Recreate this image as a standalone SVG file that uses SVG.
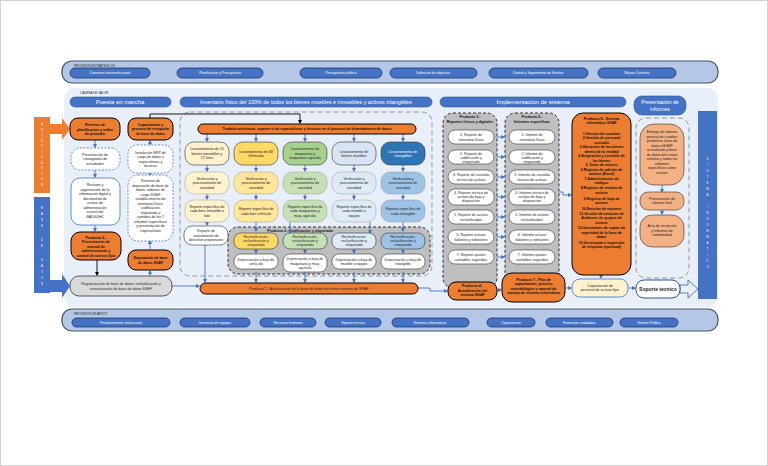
<svg xmlns="http://www.w3.org/2000/svg" width="768" height="466" viewBox="0 0 768 466">
<defs>
<marker id="a" markerWidth="4" markerHeight="4" refX="3" refY="2" orient="auto" markerUnits="userSpaceOnUse"><path d="M0,0L4,2L0,4z" fill="#4472c4"/></marker>
<marker id="k" markerWidth="4" markerHeight="4" refX="3" refY="2" orient="auto" markerUnits="userSpaceOnUse"><path d="M0,0L4,2L0,4z" fill="#000"/></marker>
<style>
text{font-family:"Liberation Sans",Arial,sans-serif;font-size:3.6px;text-anchor:middle;fill:#222}
.band{fill:#b4c7e7;stroke:#44546a;stroke-width:1.2}
.pill{fill:#4472c4;stroke:#1f3864;stroke-width:0.8}
.pt{fill:#fff;font-size:3.4px}
.hd{fill:#4472c4;stroke:#2f5597;stroke-width:0.6}
.ht{fill:#fff;font-size:6px}
.or{fill:#ed7d31;stroke:#000;stroke-width:1}
.ob{font-weight:bold;fill:#111}
.wd{fill:#fff;stroke:#4472c4;stroke-width:0.8;stroke-dasharray:2 1.5}
.wb{fill:#fff;stroke:#4472c4;stroke-width:0.8}
.wk{fill:#fff;stroke:#333;stroke-width:0.6}
.gd{fill:#bfbfbf;stroke:#333;stroke-width:1;stroke-dasharray:3 2}
.reg{fill:none;stroke:#7f7f7f;stroke-width:0.8;stroke-dasharray:5 3}
.c path,.c line,.c polyline{fill:none;stroke:#4472c4;stroke-width:0.9}
.lbl{font-size:3px;text-anchor:start}
.vt{fill:#fff;font-size:2.8px}
</style>
</defs>
<rect x="0.5" y="0.5" width="767" height="465" fill="#fff" stroke="#d0d0d0"/>

<g id="estrategicos">
<rect class="band" x="62" y="61" width="656" height="22" rx="10"/>
<text class="lbl" x="74" y="66.5">PROCESOS ESTRATEGICOS</text>
<rect class="pill" x="70" y="68" width="80" height="10" rx="5"/><text class="pt" x="110" y="74.2">Consenso interinstitucional</text>
<rect class="pill" x="177" y="68" width="86" height="10" rx="5"/><text class="pt" x="220" y="74.2">Planificacion y Presupuesto</text>
<rect class="pill" x="300" y="68" width="82" height="10" rx="5"/><text class="pt" x="341" y="74.2">Presupuesto público</text>
<rect class="pill" x="390" y="68" width="87" height="10" rx="5"/><text class="pt" x="433" y="74.2">Definicion de objetivos</text>
<rect class="pill" x="489" y="68" width="99" height="10" rx="5"/><text class="pt" x="538" y="74.2">Control y Seguimiento de Gestion</text>
<rect class="pill" x="598" y="68" width="78" height="10" rx="5"/><text class="pt" x="637" y="74.2">Mejora Continua</text>
</g>

<g id="cadena">
<rect x="64" y="88" width="654" height="219" rx="10" fill="#e9eff9"/>
<text class="lbl" x="80" y="93.5">CADENA DE VALOR</text>
<rect class="hd" x="70" y="97" width="101" height="10" rx="5"/><text class="ht" x="120" y="104">Puesta en marcha</text>
<rect class="hd" x="180" y="97" width="252" height="10" rx="5"/><text class="ht" x="306" y="104" style="font-size:5.4px">Inventario físico del 100% de todos los bienes muebles e inmuebles y activos intangibles</text>
<rect class="hd" x="440" y="97" width="186" height="10" rx="5"/><text class="ht" x="533" y="104">Implementación de sistema</text>
<rect class="hd" x="634" y="96" width="52" height="19" rx="8"/><text class="ht" x="660" y="104" style="font-size:5.2px">Presentación de</text><text class="ht" x="660" y="111" style="font-size:5.2px">informes</text>
</g>

<g id="adjudicacion">
<rect x="34" y="117" width="16" height="76" fill="#ed7d31"/>
<text class="vt" x="42" y="125">A</text><text class="vt" x="42" y="130.5">D</text><text class="vt" x="42" y="136">J</text><text class="vt" x="42" y="141.5">U</text><text class="vt" x="42" y="147">D</text><text class="vt" x="42" y="152.5">I</text><text class="vt" x="42" y="158">C</text><text class="vt" x="42" y="163.5">A</text><text class="vt" x="42" y="169">C</text><text class="vt" x="42" y="174.5">I</text><text class="vt" x="42" y="180">O</text><text class="vt" x="42" y="185.5">N</text>
<path d="M50,124H62V118L70,129L62,140V134H50z" fill="#ed7d31"/>
</g>
<g id="basedatos">
<rect x="34" y="197" width="16" height="96" fill="#4472c4"/>
<text class="vt" x="42" y="209">B</text><text class="vt" x="42" y="215">A</text><text class="vt" x="42" y="221">S</text><text class="vt" x="42" y="227">E</text><text class="vt" x="42" y="241">D</text><text class="vt" x="42" y="247">E</text><text class="vt" x="42" y="261">D</text><text class="vt" x="42" y="267">A</text><text class="vt" x="42" y="273">T</text><text class="vt" x="42" y="279">O</text><text class="vt" x="42" y="285">S</text>
<path d="M50,280H62V274L70,286L62,298V292H50z" fill="#4472c4"/>
</g>
<g id="sistema">
<rect x="698" y="111" width="19" height="188" fill="#4472c4"/>
<text class="vt" x="707.5" y="160">S</text><text class="vt" x="707.5" y="166">I</text><text class="vt" x="707.5" y="172">S</text><text class="vt" x="707.5" y="178">T</text><text class="vt" x="707.5" y="184">E</text><text class="vt" x="707.5" y="190">M</text><text class="vt" x="707.5" y="196">A</text>
<text class="vt" x="707.5" y="208">I</text><text class="vt" x="707.5" y="214">N</text><text class="vt" x="707.5" y="220">F</text><text class="vt" x="707.5" y="226">O</text><text class="vt" x="707.5" y="232">R</text><text class="vt" x="707.5" y="238">M</text><text class="vt" x="707.5" y="244">A</text><text class="vt" x="707.5" y="250">T</text><text class="vt" x="707.5" y="256">I</text><text class="vt" x="707.5" y="262">C</text><text class="vt" x="707.5" y="268">O</text>
</g>

<rect class="reg" x="180" y="112" width="252" height="164" rx="10"/>
<rect class="gd" x="228" y="227" width="202" height="47" rx="10"/>
<text class="ob" x="300" y="231.5" style="font-size:3.6px">Producto 2.- Codificación y etiquetado</text>
<rect class="gd" x="443" y="113" width="54" height="175" rx="10"/>
<text class="ob" x="470" y="118">Producto 3.-</text><text class="ob" x="470" y="122.5">Reportes físicos y digitales</text>
<rect class="gd" x="505" y="113" width="54" height="175" rx="10"/>
<text class="ob" x="532" y="118">Producto 5.-</text><text class="ob" x="532" y="122.5">Informes específicos</text>
<rect class="reg" x="636" y="118" width="53" height="160" rx="10"/>

<g class="c" id="connectors">
<polyline points="95,140 95,147" marker-end="url(#a)"/>
<polyline points="95,170 95,177" marker-end="url(#a)"/>
<polyline points="95,225 95,231" marker-end="url(#a)"/>
<polyline points="97,260 97,275" style="stroke:#000" marker-end="url(#k)"/>
<polyline points="150,145 150,141" marker-end="url(#a)"/>
<polyline points="150,175 150,173" marker-end="url(#a)"/>
<polyline points="150,249 150,241" marker-end="url(#a)"/>
<polyline points="150,276 150,271" marker-end="url(#a)"/>
<polyline points="150,118 150,114 300,114 300,123" style="stroke:#000" marker-end="url(#k)"/>
<polyline points="207,134 207,141" marker-end="url(#a)"/><polyline points="256,134 256,141" marker-end="url(#a)"/><polyline points="305,134 305,141" marker-end="url(#a)"/><polyline points="354,134 354,141" marker-end="url(#a)"/><polyline points="403,134 403,141" marker-end="url(#a)"/>
<polyline points="207,165 207,171" marker-end="url(#a)"/><polyline points="256,165 256,171" marker-end="url(#a)"/><polyline points="305,165 305,171" marker-end="url(#a)"/><polyline points="354,165 354,171" marker-end="url(#a)"/><polyline points="403,165 403,171" marker-end="url(#a)"/>
<polyline points="207,194 207,199" marker-end="url(#a)"/><polyline points="256,194 256,199" marker-end="url(#a)"/><polyline points="305,194 305,199" marker-end="url(#a)"/><polyline points="354,194 354,199" marker-end="url(#a)"/><polyline points="403,194 403,199" marker-end="url(#a)"/>
<polyline points="207,222 207,225" marker-end="url(#a)"/>
<polyline points="256,222 256,231" marker-end="url(#a)"/><polyline points="290,222 290,233" marker-end="url(#a)"/><polyline points="370,222 370,233" marker-end="url(#a)"/><polyline points="403,222 403,231" marker-end="url(#a)"/>
<polyline points="256,248 256,253" marker-end="url(#a)"/><polyline points="305,248 305,253" marker-end="url(#a)"/><polyline points="354,248 354,253" marker-end="url(#a)"/><polyline points="403,248 403,253" marker-end="url(#a)"/>
<polyline points="205,245 205,282" marker-end="url(#a)"/>
<polyline points="256,272 256,282" marker-end="url(#a)"/><polyline points="305,272 305,282" marker-end="url(#a)"/><polyline points="354,272 354,282" marker-end="url(#a)"/><polyline points="403,272 403,282" marker-end="url(#a)"/>
<polyline points="172,286 199,286" marker-end="url(#a)"/>
<polyline points="418,288 430,288 430,291 447,291" marker-end="url(#a)"/>
<polyline points="472,282 472,289" marker-end="url(#a)"/>
<polyline points="497,290 501,290" marker-end="url(#a)"/>
<polyline points="565,288 571,288" marker-end="url(#a)"/>
<polyline points="628,288 635,288" marker-end="url(#a)"/>
<polyline points="601,275 601,278" marker-end="url(#a)"/>
<polyline points="559,192 563,192 563,195 571,195" marker-end="url(#a)"/>
<polyline points="497,137 504,137" marker-end="url(#a)"/><polyline points="497,157 504,157" marker-end="url(#a)"/><polyline points="497,177 504,177" marker-end="url(#a)"/><polyline points="497,197 504,197" marker-end="url(#a)"/><polyline points="497,217 504,217" marker-end="url(#a)"/><polyline points="497,237 504,237" marker-end="url(#a)"/><polyline points="497,257 504,257" marker-end="url(#a)"/>
<polyline points="662,185 662,192" marker-end="url(#a)"/><polyline points="662,210 662,214" marker-end="url(#a)"/>
<path d="M680,285H688V280L698,289L688,298V293H680z" fill="#4472c4" stroke="none"/>
</g>

<g id="puesta">
<rect class="or" x="70" y="118" width="50" height="22" rx="8"/><text class="ob" x="95" y="126">Revision de</text><text class="ob" x="95" y="130.5">planificacion y orden</text><text class="ob" x="95" y="135">de proceder</text>
<rect class="wd" x="71" y="148" width="49" height="22" rx="9"/><text x="95" y="155.5">Presentación de</text><text x="95" y="160">cronograma de</text><text x="95" y="164.5">actividades</text>
<rect class="wb" x="71" y="178" width="49" height="47" rx="9"/><text x="95" y="186">Revision y</text><text x="95" y="190.5">organización de la</text><text x="95" y="195">informacion digital y</text><text x="95" y="199.5">documental de</text><text x="95" y="204">activos de</text><text x="95" y="208.5">administración</text><text x="95" y="213">central del</text><text x="95" y="217.5">GADGDHC</text>
<rect class="or" x="71" y="232" width="50" height="28" rx="9"/><text class="ob" x="96" y="238.5">Producto 6.-</text><text class="ob" x="96" y="243">Presentación de</text><text class="ob" x="96" y="247.5">manual de</text><text class="ob" x="96" y="252">administración y</text><text class="ob" x="96" y="256.5">control de activos fijos</text>
<rect x="70" y="276" width="102" height="20" rx="9" fill="#d9d9d9" stroke="#333" stroke-width="0.8"/><text x="121" y="284.5">Regularización de base de datos, reclasificación y</text><text x="121" y="289.5">estructuración de base de datos SGEF</text>
<rect class="or" x="128" y="118" width="45" height="22" rx="8"/><text class="ob" x="150.5" y="125.5">Capacitación y</text><text class="ob" x="150.5" y="130">proceso de recepción</text><text class="ob" x="150.5" y="134.5">de base de datos</text>
<rect class="wd" x="128" y="145" width="45" height="28" rx="9"/><text x="150.5" y="153.5">Instalación ERP de</text><text x="150.5" y="158">carga de datos a</text><text x="150.5" y="162.5">especialistas y</text><text x="150.5" y="167">técnicos</text>
<rect class="wd" x="128" y="175" width="45" height="66" rx="10"/><text x="150.5" y="182">Revision de</text><text x="150.5" y="186.5">depuración de base de</text><text x="150.5" y="191">datos, ordenes de</text><text x="150.5" y="195.5">cargo SGEF</text><text x="150.5" y="200">establecimiento de</text><text x="150.5" y="204.5">inventario físico,</text><text x="150.5" y="209">codificación,</text><text x="150.5" y="213.5">etiquetado y</text><text x="150.5" y="218">cambios de los 7</text><text x="150.5" y="222.5">informes específicos</text><text x="150.5" y="227">y presentación de</text><text x="150.5" y="231.5">especialistas</text>
<rect class="or" x="128" y="250" width="45" height="20" rx="8"/><text class="ob" x="150.5" y="259">Depuración de base</text><text class="ob" x="150.5" y="263.5">de datos SGEF</text>
</g>

<g id="inventario">
<rect class="or" x="198" y="124" width="218" height="10" rx="5"/><text class="ob" x="307" y="130.2">Tradado asistencia, soporte a las especialistas y técnicos en el proceso de levantamiento de datos</text>
<rect x="185" y="142" width="44" height="23" rx="9" fill="#fff2cc" stroke="#333" stroke-width="0.6"/><text x="207" y="150">Levantamiento de 15</text><text x="207" y="154.5">bienes inmuebles y</text><text x="207" y="159">17 lotes</text>
<rect x="234" y="142" width="44" height="23" rx="9" fill="#ffd966" stroke="#333" stroke-width="0.6"/><text x="256" y="152.5">Levantamiento de 68</text><text x="256" y="157">Vehículos</text>
<rect x="283" y="142" width="44" height="23" rx="9" fill="#a9d18e" stroke="#333" stroke-width="0.6"/><text x="305" y="150">Levantamiento de</text><text x="305" y="154.5">maquinaria y</text><text x="305" y="159">maquinaria agrícola</text>
<rect x="332" y="142" width="44" height="23" rx="9" fill="#dae3f3" stroke="#333" stroke-width="0.6"/><text x="354" y="152.5">Levantamiento de</text><text x="354" y="157">bienes muebles</text>
<rect x="381" y="142" width="44" height="23" rx="9" fill="#2e75b6" stroke="#333" stroke-width="0.6"/><text x="403" y="152.5" style="fill:#fff">Levantamiento de</text><text x="403" y="157" style="fill:#fff">intangibles</text>
<rect x="185" y="172" width="44" height="22" rx="9" fill="#fff2cc" stroke="#999" stroke-width="0.5"/><text x="207" y="179.5">Verificación y</text><text x="207" y="184">procesamiento de</text><text x="207" y="188.5">novedad</text>
<rect x="234" y="172" width="44" height="22" rx="9" fill="#ffe699" stroke="#999" stroke-width="0.5"/><text x="256" y="179.5">Verificación y</text><text x="256" y="184">procesamiento de</text><text x="256" y="188.5">novedad</text>
<rect x="283" y="172" width="44" height="22" rx="9" fill="#c5e0b4" stroke="#999" stroke-width="0.5"/><text x="305" y="179.5">Verificación y</text><text x="305" y="184">procesamiento de</text><text x="305" y="188.5">novedad</text>
<rect x="332" y="172" width="44" height="22" rx="9" fill="#deebf7" stroke="#999" stroke-width="0.5"/><text x="354" y="179.5">Verificación y</text><text x="354" y="184">procesamiento de</text><text x="354" y="188.5">novedad</text>
<rect x="381" y="172" width="44" height="22" rx="9" fill="#9dc3e6" stroke="#999" stroke-width="0.5"/><text x="403" y="179.5">Verificación y</text><text x="403" y="184">procesamiento de</text><text x="403" y="188.5">novedad</text>
<rect x="185" y="200" width="44" height="22" rx="9" fill="#fff2cc" stroke="#999" stroke-width="0.5"/><text x="207" y="207.5">Reporte específico de</text><text x="207" y="212">cada bien inmueble o</text><text x="207" y="216.5">lote</text>
<rect x="234" y="200" width="44" height="22" rx="9" fill="#ffe699" stroke="#999" stroke-width="0.5"/><text x="256" y="210">Reporte específico de</text><text x="256" y="214.5">cada bien vehículo</text>
<rect x="283" y="200" width="44" height="22" rx="9" fill="#c5e0b4" stroke="#999" stroke-width="0.5"/><text x="305" y="207.5">Reporte específico de</text><text x="305" y="212">cada maquinaria y</text><text x="305" y="216.5">maq. agrícola</text>
<rect x="332" y="200" width="44" height="22" rx="9" fill="#deebf7" stroke="#999" stroke-width="0.5"/><text x="354" y="207.5">Reporte específico de</text><text x="354" y="212">cada mueble o</text><text x="354" y="216.5">equipo</text>
<rect x="381" y="200" width="44" height="22" rx="9" fill="#9dc3e6" stroke="#999" stroke-width="0.5"/><text x="403" y="210">Reporte específico de</text><text x="403" y="214.5">cada intangible</text>
<rect class="wk" x="184" y="226" width="44" height="19" rx="8"/><text x="206" y="232">Reporte de</text><text x="206" y="236.5">saneamiento de</text><text x="206" y="241">derechos propietarios</text>
<rect x="234" y="233" width="44" height="16" rx="7" fill="#ffd966" stroke="#333" stroke-width="0.6"/><text x="256" y="238">Reclasificación,</text><text x="256" y="242">reclasificación y</text><text x="256" y="246">etiquetado</text>
<rect x="283" y="233" width="44" height="16" rx="7" fill="#c5e0b4" stroke="#333" stroke-width="0.6"/><text x="305" y="238">Reclasificación,</text><text x="305" y="242">reclasificación y</text><text x="305" y="246">etiquetado</text>
<rect x="332" y="233" width="44" height="16" rx="7" fill="#deebf7" stroke="#333" stroke-width="0.6"/><text x="354" y="238">Reclasificación,</text><text x="354" y="242">reclasificación y</text><text x="354" y="246">etiquetado</text>
<rect x="381" y="233" width="44" height="16" rx="7" fill="#9dc3e6" stroke="#333" stroke-width="0.6"/><text x="403" y="238">Reclasificación,</text><text x="403" y="242">reclasificación y</text><text x="403" y="246">etiquetado</text>
<rect class="wk" x="234" y="254" width="44" height="15" rx="7"/><text x="256" y="260.5">Depreciación o baja de</text><text x="256" y="265">vehículo</text>
<rect class="wk" x="283" y="254" width="44" height="18" rx="7"/><text x="305" y="260">Depreciación o baja de</text><text x="305" y="264.5">maquinaria y maq.</text><text x="305" y="269">agrícola</text>
<rect class="wk" x="332" y="254" width="44" height="15" rx="7"/><text x="354" y="260.5">Depreciación o baja de</text><text x="354" y="265">mueble o equipo</text>
<rect class="wk" x="381" y="254" width="44" height="15" rx="7"/><text x="403" y="260.5">Depreciación o baja de</text><text x="403" y="265">intangible</text>
<rect class="or" x="200" y="283" width="218" height="11" rx="5.5"/><text x="309" y="289.8">Producto 1.- Actualización de la base de datos del nuevo sistema de SGAF</text>
</g>

<g id="implementacion">
<rect class="wk" x="448" y="130" width="46" height="14" rx="7"/><text x="471" y="136">1. Reporte de</text><text x="471" y="140.5">inventario físico</text>
<rect class="wk" x="448" y="150" width="46" height="14" rx="7"/><text x="471" y="154.5">2. Reporte de</text><text x="471" y="158.5">codificación y</text><text x="471" y="162.5">etiquetado</text>
<rect class="wk" x="448" y="170" width="46" height="14" rx="7"/><text x="471" y="176">3. Reporte de consulta</text><text x="471" y="180.5">técnico de activos</text>
<rect class="wk" x="448" y="189" width="46" height="16" rx="7"/><text x="471" y="194">4. Reporte técnico de</text><text x="471" y="198">activos de baja y</text><text x="471" y="202">disposición</text>
<rect class="wk" x="448" y="210" width="46" height="14" rx="7"/><text x="471" y="216">5. Reporte de activos</text><text x="471" y="220.5">reclasificados</text>
<rect class="wk" x="448" y="230" width="46" height="14" rx="7"/><text x="471" y="236">6. Reporte activos</text><text x="471" y="240.5">faltantes y sobrantes</text>
<rect class="wk" x="448" y="250" width="46" height="14" rx="7"/><text x="471" y="256">7. Reporte ajustes</text><text x="471" y="260.5">contables sugeridos</text>
<rect class="wk" x="509" y="130" width="46" height="14" rx="7"/><text x="532" y="136">1. Informe de</text><text x="532" y="140.5">inventario físico</text>
<rect class="wk" x="509" y="150" width="46" height="14" rx="7"/><text x="532" y="154.5">2. Informe de</text><text x="532" y="158.5">codificación y</text><text x="532" y="162.5">etiquetado</text>
<rect class="wk" x="509" y="170" width="46" height="14" rx="7"/><text x="532" y="176">3. Informe de consulta</text><text x="532" y="180.5">técnico de activos</text>
<rect class="wk" x="509" y="189" width="46" height="16" rx="7"/><text x="532" y="194">4. Informe técnico de</text><text x="532" y="198">activos de baja y</text><text x="532" y="202">disposición</text>
<rect class="wk" x="509" y="210" width="46" height="14" rx="7"/><text x="532" y="216">5. Informe de activos</text><text x="532" y="220.5">reclasificados</text>
<rect class="wk" x="509" y="230" width="46" height="14" rx="7"/><text x="532" y="236">6. Informe activos</text><text x="532" y="240.5">faltantes y sobrantes</text>
<rect class="wk" x="509" y="250" width="46" height="14" rx="7"/><text x="532" y="256">7. Informe ajustes</text><text x="532" y="260.5">contables sugeridos</text>
<rect class="or" x="572" y="113" width="59" height="162" rx="11"/>
<text x="601.5" y="119.5" class="ob">Producto 8.- Sistema</text><text x="601.5" y="124" class="ob">informático SGAF</text>
<text x="601.5" y="134.5" class="ob">1.Gestion de usuarios</text><text x="601.5" y="139" class="ob">2.Gestión de personal</text><text x="601.5" y="143.5" class="ob">custodio</text><text x="601.5" y="148" class="ob">3.Ubicación de los bienes</text><text x="601.5" y="152.5" class="ob">dentro de la entidad</text><text x="601.5" y="157" class="ob">4.Asignación y custodio de</text><text x="601.5" y="161.5" class="ob">los bienes</text><text x="601.5" y="166" class="ob">5. Ítems de activos</text><text x="601.5" y="170.5" class="ob">6.Registro de adición de</text><text x="601.5" y="175" class="ob">activos (Excel)</text><text x="601.5" y="179.5" class="ob">7.Administración de</text><text x="601.5" y="184" class="ob">códigos</text><text x="601.5" y="189" class="ob">8.Registro de revalúo de</text><text x="601.5" y="193.5" class="ob">activos</text><text x="601.5" y="199.5" class="ob">9.Registro de baja de</text><text x="601.5" y="204" class="ob">activos</text><text x="601.5" y="210" class="ob">10.Emisión de reportes</text><text x="601.5" y="214.5" class="ob">11.Gestión de creación de</text><text x="601.5" y="219" class="ob">Auditores de grupos de</text><text x="601.5" y="223.5" class="ob">activos</text><text x="601.5" y="229" class="ob">12.Generación de copias de</text><text x="601.5" y="233.5" class="ob">seguridad de la base de</text><text x="601.5" y="238" class="ob">datos</text><text x="601.5" y="243.5" class="ob">13.Generación e impresión</text><text x="601.5" y="248" class="ob">de etiquetas (opcional)</text>
<rect class="or" x="448" y="282" width="49" height="18" rx="8"/><text class="ob" x="472.5" y="287">Producto 4.-</text><text class="ob" x="472.5" y="291.5">Actualización del</text><text class="ob" x="472.5" y="296">sistema SGAF</text>
<rect class="or" x="502" y="273" width="63" height="29" rx="10"/><text class="ob" x="533.5" y="280.5">Producto 7.- Plan de</text><text class="ob" x="533.5" y="285">capacitación, proceso</text><text class="ob" x="533.5" y="289.5">metodológico y manual de</text><text class="ob" x="533.5" y="294">manejo de sistema informático</text>
<rect x="572" y="279" width="56" height="18" rx="8" fill="#fff2cc" stroke="#4472c4" stroke-width="0.8"/><text x="600" y="286.5">Capacitación de</text><text x="600" y="291">personal de activos fijos</text>
<rect x="636" y="280" width="44" height="18" rx="8" fill="#fff" stroke="#2f5597" stroke-width="1"/><text x="658" y="291" style="font-size:5px;font-weight:bold">Soporte tecnico</text>
</g>

<g id="informes">
<rect x="640" y="124" width="44" height="61" rx="14" fill="#f4b183" stroke="#333" stroke-width="0.6"/><text x="662" y="133">Entrega de informe</text><text x="662" y="137.5">general de cuadros</text><text x="662" y="142">preliminar, base de</text><text x="662" y="146.5">datos eSGEF</text><text x="662" y="151">actualizado y base</text><text x="662" y="155.5">de datos del nuevo</text><text x="662" y="160">sistema y todos los</text><text x="662" y="164.5">informes</text><text x="662" y="169">específicos como</text><text x="662" y="173.5">anexos</text>
<rect x="640" y="192" width="44" height="18" rx="8" fill="#f4b183" stroke="#333" stroke-width="0.6"/><text x="662" y="199.5">Presentación de</text><text x="662" y="204">informe final</text>
<rect x="640" y="215" width="44" height="32" rx="12" fill="#f4b183" stroke="#333" stroke-width="0.6"/><text x="662" y="227">Acta de recepción</text><text x="662" y="231.5">y informes de</text><text x="662" y="236">conformidad</text>
</g>

<g id="apoyo">
<rect class="band" x="62" y="309" width="656" height="22" rx="10"/>
<text class="lbl" x="74" y="314.5">PROCESOS DE APOYO</text>
<rect class="pill" x="72" y="318" width="98" height="9" rx="4.5"/><text class="pt" x="121" y="323.8">Fortalecimiento institucional</text>
<rect class="pill" x="180" y="318" width="70" height="9" rx="4.5"/><text class="pt" x="215" y="323.8">Inventario de equipos</text>
<rect class="pill" x="260" y="318" width="56" height="9" rx="4.5"/><text class="pt" x="288" y="323.8">Recursos humanos</text>
<rect class="pill" x="325" y="318" width="56" height="9" rx="4.5"/><text class="pt" x="353" y="323.8">Soporte tecnico</text>
<rect class="pill" x="392" y="318" width="77" height="9" rx="4.5"/><text class="pt" x="430" y="323.8">Sistemas informaticos</text>
<rect class="pill" x="487" y="318" width="48" height="9" rx="4.5"/><text class="pt" x="511" y="323.8">Capacitacion</text>
<rect class="pill" x="546" y="318" width="67" height="9" rx="4.5"/><text class="pt" x="579" y="323.8">Formacion ciudadana</text>
<rect class="pill" x="620" y="318" width="58" height="9" rx="4.5"/><text class="pt" x="649" y="323.8">Gestión Publica</text>
</g>
</svg>
